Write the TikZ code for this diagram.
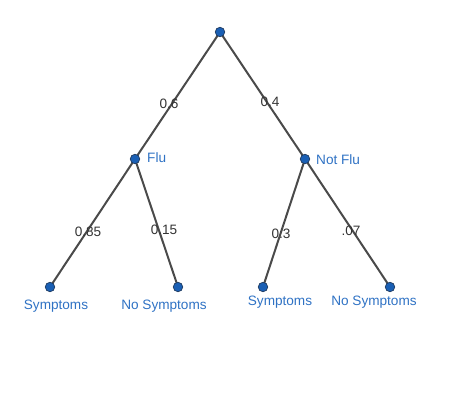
\documentclass[tikz,border=0pt]{standalone}
\usepackage{fontspec}
\setmainfont{Liberation Sans}
\definecolor{dotblue}{HTML}{1A5FB4}
\definecolor{dotedge}{HTML}{1E3A5F}
\definecolor{labblue}{HTML}{2F72C4}
\definecolor{edgegray}{HTML}{4A4A4A}
\definecolor{numgray}{HTML}{333333}
\begin{document}
\begin{tikzpicture}[x=1pt,y=-1pt,
  dot/.style={circle,fill=dotblue,draw=dotedge,line width=0.7pt,inner sep=0pt,minimum size=9.5pt},
  branch/.style={draw=edgegray,line width=2pt},
  prob/.style={text=numgray,font=\fontsize{13.6}{15}\selectfont,inner sep=0pt},
  outcome/.style={text=labblue,font=\fontsize{13.6}{15}\selectfont,inner sep=0pt}]
\useasboundingbox (0,0) rectangle (450,407);
\coordinate (r) at (220,32);
\coordinate (f) at (135,159);
\coordinate (nf) at (305,159);
\coordinate (l1) at (50,287);
\coordinate (l2) at (178,287);
\coordinate (l3) at (263,287);
\coordinate (l4) at (390,287);
\draw[branch] (r) -- (f);
\draw[branch] (r) -- (nf);
\draw[branch] (f) -- (l1);
\draw[branch] (f) -- (l2);
\draw[branch] (nf) -- (l3);
\draw[branch] (nf) -- (l4);
\foreach \p in {r,f,nf,l1,l2,l3,l4} \node[dot] (d\p) at (\p) {};
\node[prob] (p1) at (169,104) {0.6};
\node[prob] (p2) at (270,102) {0.4};
\node[prob] (p3) at (88,232) {0.85};
\node[prob] (p4) at (164,230) {0.15};
\node[prob] (p5) at (281,234) {0.3};
\node[prob] (p6) at (351,231) {.07};
\node[outcome,anchor=west] (tf) at (147,158) {Flu};
\node[outcome,anchor=west] (tnf) at (316,160) {Not Flu};
\node[outcome] (t1) at (56,306) {Symptoms};
\node[outcome] (t2) at (164,306) {No Symptoms};
\node[outcome] (t3) at (280,302) {Symptoms};
\node[outcome] (t4) at (374,302) {No Symptoms};
\end{tikzpicture}
\end{document}
